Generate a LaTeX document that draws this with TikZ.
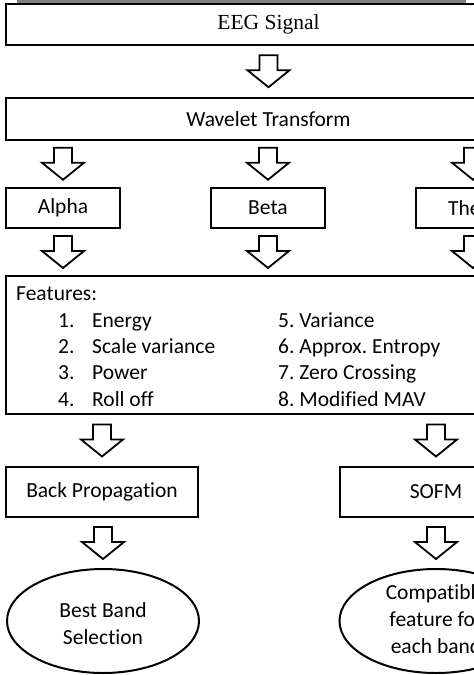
\documentclass[tikz,border=0pt]{standalone}
\usepackage{fontspec}
\setmainfont{Carlito}[Ligatures={NoCommon}]
\newfontfamily\eegserif{Liberation Serif}
\usetikzlibrary{calc,shapes.geometric}
\definecolor{bandgray}{RGB}{128,128,128}
\frenchspacing
\begin{document}
\begin{tikzpicture}[x=1pt,y=-1pt,
  txt/.style={font=\fontsize{21.5}{27}\selectfont},
  box/.style={draw, line width=2pt, rectangle, inner sep=0pt, txt},
  oval/.style={draw, line width=2pt, ellipse, inner sep=0pt},
  ovaltext/.style={align=center, inner sep=0pt, txt},
  ftext/.style={anchor=base west, inner sep=0pt, txt},
  blk/.style={draw, line width=1.8pt, fill=white, line join=miter,
    to path={let \p1=(\tikztostart), \p2=(\tikztotarget),
      \n1={0.5*(\y1)+0.5*(\y2)} in
      (\x2-9pt,\n1+16pt) -- (\x2+9pt,\n1+16pt) -- (\x2+9pt,\n1+1pt)
      -- (\x2+21pt,\n1+1pt) -- (\x2,\n1-16pt) -- (\x2-21pt,\n1+1pt)
      -- (\x2-9pt,\n1+1pt) -- cycle}},
]
\useasboundingbox[fill=white] (0,0) rectangle (474,675);
\clip (0,0) rectangle (474,675);

% top grey band
\fill[bandgray] (17,0) rectangle (466,3);

% boxes
\node[box, minimum width=525pt, minimum height=40.5pt, font=\eegserif\fontsize{21.5}{27}\selectfont] (eeg) at (268.5,24.25) {EEG Signal};
\node[box, minimum width=525pt, minimum height=41.5pt] (wt) at (268.5,118.75) {Wavelet Transform};

\node[box, minimum width=114pt, minimum height=40pt] (alpha) at (63,208) {Alpha};
\node[box, minimum width=114pt, minimum height=40pt] (beta) at (268,208) {Beta};
\node[box, minimum width=114pt, minimum height=40pt] (theta) at (473,208) {Theta};

\node[box, minimum width=525pt, minimum height=138pt] (feat) at (268.5,345) {};
\node[ftext] (f0) at (16,300.5) {Features:};
\node[ftext] (f1) at (58,327) {\makebox[34pt][l]{1.}Energy};
\node[ftext] (f2) at (58,353.3) {\makebox[34pt][l]{2.}Scale variance};
\node[ftext] (f3) at (58,379.6) {\makebox[34pt][l]{3.}Power};
\node[ftext] (f4) at (58,406) {\makebox[34pt][l]{4.}Roll off};
\node[ftext] (f5) at (278,327) {5. Variance};
\node[ftext] (f6) at (278,353.3) {6. Approx.\ Entropy};
\node[ftext] (f7) at (278,379.6) {7. Zero Crossing};
\node[ftext] (f8) at (278,406) {8. Modified MAV};

\node[box, minimum width=192pt, minimum height=50pt] (bp) at (102,492) {Back Propagation};
\node[box, minimum width=193pt, minimum height=50pt] (sofm) at (436,492) {SOFM};

\node[oval, minimum width=192pt, minimum height=104pt] (best) at (103,621) {};
\node[ovaltext] (bestt) at (103,624) {Best Band\\Selection};
\node[oval, minimum width=193pt, minimum height=104pt] (comp) at (436,621) {};
\node[ovaltext] (compt) at (436,619) {Compatible\\feature for\\each band};

% block arrows
\draw[blk] (eeg.south) to (wt.north);
\draw[blk] (wt.south -| alpha.north) to (alpha.north);
\draw[blk] (wt.south -| beta.north) to (beta.north);
\draw[blk] (wt.south -| theta.north) to (theta.north);
\draw[blk] (alpha.south) to (feat.north -| alpha.south);
\draw[blk] (beta.south) to (feat.north -| beta.south);
\draw[blk] (theta.south) to (feat.north -| theta.south);
\draw[blk] (feat.south -| bp.north) to (bp.north);
\draw[blk] (feat.south -| sofm.north) to (sofm.north);
\draw[blk] (bp.south) to (best.north);
\draw[blk] (sofm.south) to (comp.north);
\end{tikzpicture}
\end{document}
